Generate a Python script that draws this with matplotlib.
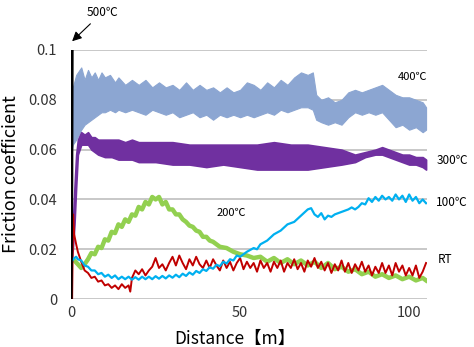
import numpy as np
import matplotlib
matplotlib.use("Agg")
import matplotlib.pyplot as plt

plt.rcParams['font.family'] = ['Noto Sans CJK JP', 'DejaVu Sans']

# 400℃ : pita osilasi (batas atas / bawah)
jarak_400 = [0, 0.5, 1.5, 3, 4, 5, 6, 7, 8, 9, 10, 11.5, 13, 14, 16, 18, 20, 22, 24, 26,
             28, 30, 32, 34, 36, 38, 40, 42, 44, 46, 48, 50, 52, 54, 56, 58, 60, 62, 64, 66,
             68, 70, 71.5, 72.5, 74, 76, 78, 80, 82, 84, 86, 88, 90, 92, 94, 96, 98, 100, 102, 104, 105]
atas_400 = [0.062, 0.085, 0.090, 0.093, 0.088, 0.092, 0.089, 0.091, 0.088, 0.091, 0.089, 0.090, 0.087,
            0.089, 0.086, 0.088, 0.086, 0.088, 0.085, 0.087, 0.085, 0.086, 0.084, 0.087, 0.084, 0.086,
            0.084, 0.085, 0.083, 0.085, 0.083, 0.084, 0.087, 0.086, 0.084, 0.087, 0.085, 0.088, 0.086,
            0.089, 0.091, 0.090, 0.091, 0.082, 0.080, 0.081, 0.079, 0.080, 0.083, 0.084, 0.083, 0.084,
            0.085, 0.086, 0.084, 0.082, 0.081, 0.081, 0.080, 0.079, 0.077]
bawah_400 = [0.058, 0.062, 0.064, 0.068, 0.070, 0.071, 0.072, 0.073, 0.074, 0.075, 0.075, 0.076, 0.075,
             0.076, 0.075, 0.076, 0.075, 0.074, 0.076, 0.075, 0.074, 0.075, 0.073, 0.074, 0.075, 0.073,
             0.074, 0.072, 0.074, 0.073, 0.074, 0.073, 0.074, 0.073, 0.074, 0.075, 0.074, 0.076, 0.075,
             0.076, 0.077, 0.077, 0.076, 0.072, 0.071, 0.070, 0.071, 0.070, 0.073, 0.075, 0.074, 0.075,
             0.074, 0.075, 0.072, 0.069, 0.070, 0.068, 0.069, 0.067, 0.068]

# 300℃
jarak_300 = [0, 0.5, 1, 1.5, 2, 3, 4, 5, 6, 7, 8, 10, 12, 14, 16, 18, 20, 25, 30, 35, 40, 45, 50,
             55, 60, 65, 70, 75, 80, 84, 87, 90, 92, 94, 96, 98, 100, 102, 104, 105]
atas_300 = [0.018, 0.030, 0.045, 0.058, 0.064, 0.067, 0.066, 0.067, 0.065, 0.065, 0.064, 0.064, 0.064,
            0.064, 0.063, 0.064, 0.063, 0.063, 0.063, 0.062, 0.062, 0.062, 0.062, 0.062, 0.063, 0.062,
            0.062, 0.061, 0.060, 0.058, 0.059, 0.060, 0.061, 0.060, 0.059, 0.058, 0.058, 0.057, 0.057, 0.056]
bawah_300 = [0.014, 0.020, 0.030, 0.045, 0.058, 0.062, 0.062, 0.062, 0.060, 0.059, 0.058, 0.057, 0.057,
             0.056, 0.056, 0.056, 0.055, 0.055, 0.054, 0.054, 0.053, 0.054, 0.053, 0.052, 0.052, 0.052,
             0.052, 0.053, 0.054, 0.055, 0.057, 0.058, 0.058, 0.057, 0.056, 0.055, 0.054, 0.054, 0.053, 0.052]

# 200℃
jarak_200 = [0, 1, 2, 3, 4, 5, 6, 7, 8, 9, 10, 11, 12, 13, 14, 15, 16, 17, 18, 19, 20, 21, 22, 23, 24,
             25, 26, 27, 28, 29, 30, 31, 32, 33, 34, 35, 36, 37, 38, 39, 40, 41, 42, 44, 46, 48, 50,
             52, 54, 56, 58, 60, 62, 64, 66, 68, 70, 72, 74, 76, 78, 80, 82, 84, 86, 88, 90, 92, 94,
             96, 98, 100, 102, 104, 105]
cof_200 = [0.016, 0.0155, 0.014, 0.0125, 0.014, 0.016, 0.0185, 0.018, 0.021, 0.0205, 0.024, 0.0235,
           0.027, 0.0265, 0.030, 0.029, 0.032, 0.031, 0.034, 0.0335, 0.037, 0.036, 0.039, 0.038, 0.041,
           0.040, 0.041, 0.038, 0.039, 0.036, 0.036, 0.034, 0.034, 0.032, 0.031, 0.0295, 0.029, 0.0275,
           0.027, 0.025, 0.025, 0.0235, 0.023, 0.021, 0.0205, 0.019, 0.018, 0.0175, 0.0165, 0.017,
           0.015, 0.0165, 0.0145, 0.016, 0.014, 0.0155, 0.0135, 0.015, 0.0125, 0.0145, 0.012, 0.013,
           0.011, 0.012, 0.010, 0.011, 0.009, 0.010, 0.0085, 0.0095, 0.008, 0.009, 0.0075, 0.0085, 0.0075]

# 100℃
jarak_100 = [0, 1, 1.5, 2, 3, 4, 5, 6, 7, 8, 9, 10, 11, 12, 13, 14, 15, 16, 17, 18, 19, 20, 21, 22,
             23, 24, 25, 26, 27, 28, 29, 30, 31, 32, 33, 34, 35, 36, 37, 38, 39, 40, 41, 42, 43, 44,
             45, 46, 47, 48, 49, 50, 52, 54, 55, 56, 58, 60, 62, 64, 66, 68, 70, 71, 72, 73, 74, 75,
             76, 77, 78, 79, 80, 81, 82, 83, 84, 85, 86, 87, 88, 89, 90, 91, 92, 93, 94, 95, 96, 97,
             98, 99, 100, 101, 102, 103, 104, 105]
cof_100 = [0.015, 0.0165, 0.017, 0.016, 0.0155, 0.0135, 0.013, 0.0115, 0.0115, 0.010, 0.0105, 0.009,
           0.0098, 0.0085, 0.0095, 0.008, 0.009, 0.008, 0.009, 0.0078, 0.0088, 0.0078, 0.009, 0.008,
           0.009, 0.008, 0.0092, 0.0082, 0.0093, 0.0083, 0.0095, 0.0086, 0.0098, 0.0088, 0.0102, 0.0093,
           0.0107, 0.0098, 0.0113, 0.0105, 0.012, 0.0113, 0.0128, 0.0122, 0.0138, 0.0132, 0.0150, 0.0143,
           0.016, 0.0155, 0.0175, 0.017, 0.019, 0.0205, 0.020, 0.022, 0.0235, 0.026, 0.0275, 0.030,
           0.031, 0.0335, 0.036, 0.0365, 0.034, 0.033, 0.0345, 0.032, 0.0335, 0.033, 0.034, 0.0345,
           0.035, 0.0355, 0.036, 0.0368, 0.036, 0.037, 0.0385, 0.038, 0.0405, 0.039, 0.041, 0.0395,
           0.0415, 0.040, 0.041, 0.0395, 0.042, 0.040, 0.0415, 0.039, 0.042, 0.0395, 0.041, 0.0385,
           0.040, 0.0385]

# RT
jarak_rt = [0.3, 0.6, 0.9, 1.5, 2, 3, 4, 5, 6, 7, 8, 9, 10, 11, 12, 13, 14, 15, 16, 17, 17.5, 18, 19,
            20, 21, 22, 23, 24, 25, 26, 27, 28, 29, 30, 31, 32, 33, 34, 35, 36, 37, 38, 39, 40, 41,
            42, 43, 44, 45, 46, 47, 48, 49, 50, 51, 52, 53, 54, 55, 56, 57, 58, 59, 60, 61, 62, 63,
            64, 65, 66, 67, 68, 69, 70, 71, 72, 73, 74, 75, 76, 77, 78, 79, 80, 81, 82, 83, 84, 85,
            86, 87, 88, 89, 90, 91, 92, 93, 94, 95, 96, 97, 98, 99, 100, 101, 102, 103, 104, 105]
cof_rt = [0.0, 0.034, 0.026, 0.022, 0.019, 0.015, 0.0115, 0.0105, 0.0085, 0.009, 0.007, 0.0075, 0.0055,
          0.006, 0.0045, 0.0055, 0.004, 0.006, 0.0045, 0.0055, 0.003, 0.0085, 0.0115, 0.010, 0.012,
          0.0095, 0.0115, 0.013, 0.0165, 0.0125, 0.014, 0.0115, 0.0145, 0.017, 0.0135, 0.0175, 0.0145,
          0.012, 0.016, 0.0135, 0.017, 0.014, 0.0125, 0.0155, 0.0125, 0.016, 0.0135, 0.0115, 0.0155,
          0.0125, 0.015, 0.0115, 0.0145, 0.0165, 0.012, 0.015, 0.0125, 0.0145, 0.011, 0.0155, 0.0125,
          0.0145, 0.011, 0.015, 0.0125, 0.0155, 0.011, 0.0145, 0.0125, 0.016, 0.012, 0.0145, 0.011,
          0.0155, 0.013, 0.0165, 0.0125, 0.015, 0.0115, 0.0145, 0.0105, 0.014, 0.0115, 0.0155, 0.011,
          0.0145, 0.0105, 0.014, 0.0115, 0.015, 0.011, 0.0135, 0.0095, 0.013, 0.0105, 0.0145, 0.0105,
          0.0135, 0.0095, 0.0145, 0.011, 0.0135, 0.0095, 0.0125, 0.0095, 0.0135, 0.0085, 0.011, 0.0145]

# 500℃ (langsung naik di awal)
jarak_500 = [0, 0.2, 0.3]
cof_500 = [0, 0.05, 0.1]

fig = plt.figure(figsize=(4.74, 3.47), dpi=100)
ax = fig.add_axes([0.150, 0.138, 0.751, 0.718])

ax.fill_between(jarak_400, bawah_400, atas_400, color="#8CA6D2", lw=0.8, zorder=2)
ax.fill_between(jarak_300, bawah_300, atas_300, color="#7030A0", lw=1.2, zorder=3)
ax.plot(jarak_200, cof_200, color="#92D050", lw=3.2, zorder=4)
ax.plot(jarak_rt, cof_rt, color="#C00000", lw=1.4, zorder=5)
ax.plot(jarak_100, cof_100, color="#00B0F0", lw=1.6, zorder=6)
ax.plot(jarak_500, cof_500, color="black", lw=2.2, zorder=7)

ax.set_xlim(0, 105.3)
ax.set_ylim(0, 0.1)
ax.set_xticks([0, 50, 100])
ax.set_yticks([0, 0.02, 0.04, 0.06, 0.08, 0.1])
ax.set_yticklabels(["0", "0.02", "0.04", "0.06", "0.08", "0.1"])
ax.tick_params(length=0, labelsize=10.5, colors="#333333")
ax.tick_params(axis="y", pad=10)
ax.tick_params(axis="x", pad=5)
ax.grid(axis="y", color="#BFBFBF", lw=1.2, zorder=1)
for s in ax.spines.values():
    s.set_visible(False)
ax.set_axisbelow(True)

ax.set_xlabel("Distance【m】", fontsize=12.5, va="center")
ax.xaxis.set_label_coords(0.46, -0.16)
ax.set_ylabel("Friction coefficient", fontsize=13, labelpad=6)

ax.text(96.5, 0.089, "400℃", fontsize=8, va="center")
ax.text(43, 0.0345, "200℃", fontsize=8, va="center")
ax.text(108, 0.0558, "300℃", fontsize=8.5, va="center", clip_on=False)
ax.text(108, 0.0386, "100℃", fontsize=8.5, va="center", clip_on=False)
ax.text(108.5, 0.016, "RT", fontsize=8.5, va="center", clip_on=False)
ax.annotate("500℃", xy=(0.3, 0.1035), xytext=(4.5, 0.115), fontsize=8.5, va="center",
            annotation_clip=False,
            arrowprops=dict(arrowstyle="-|>", color="black", lw=0.8, mutation_scale=14,
                            shrinkA=2, shrinkB=0))

fig.savefig("out.png", dpi=100)
